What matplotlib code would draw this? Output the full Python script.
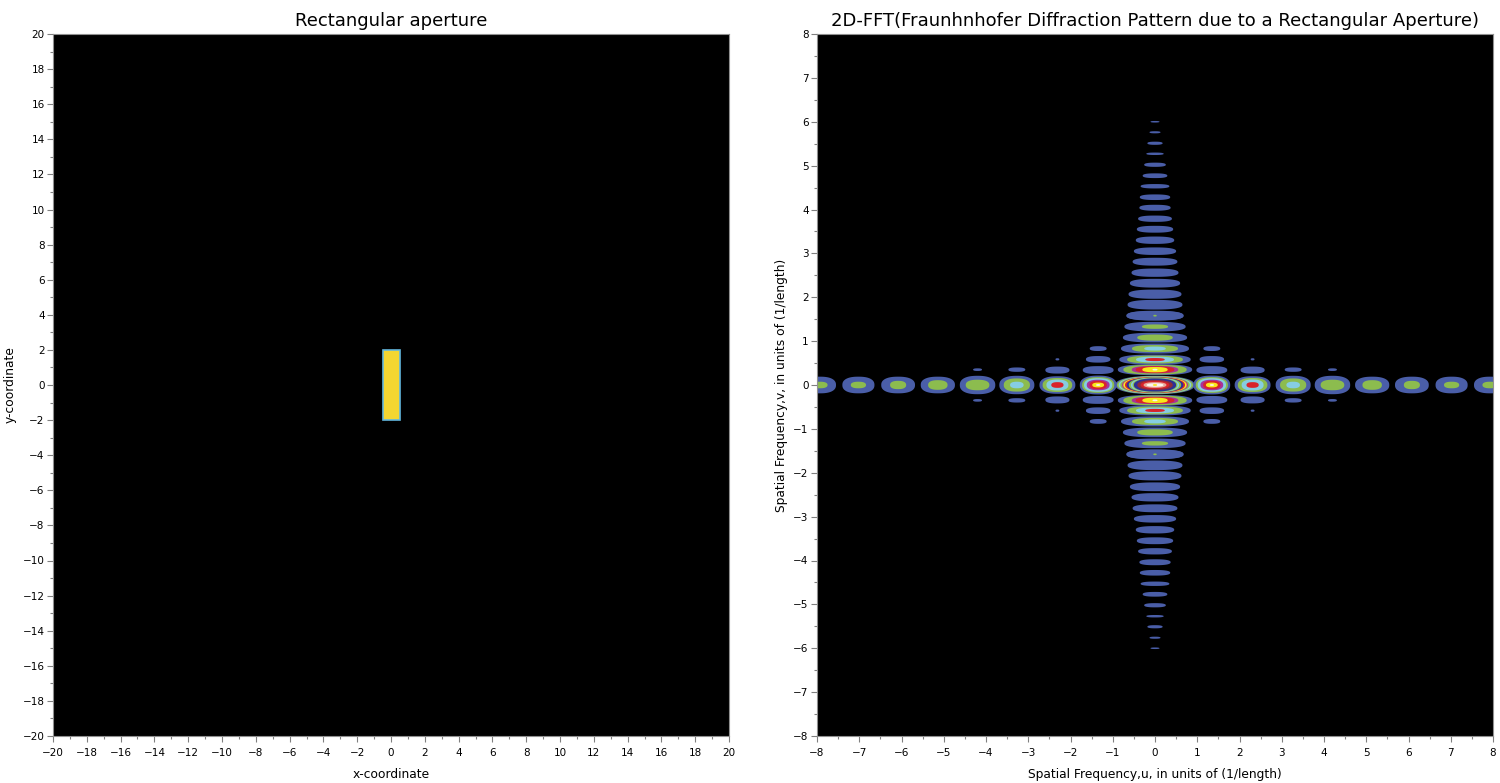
import numpy as np
import matplotlib
matplotlib.use("Agg")
import matplotlib.pyplot as plt

# contour level colours
BLUE = "#4a5ea8"
GREEN = "#8cbc4e"
CYAN = "#86cde2"
PURPLE = "#a8329a"
RED = "#d8232a"
YELLOW = "#f8e81c"
WHITE = "#fdf3ee"
DARKRED = "#8e2a3a"
PINK = "#e6a89a"
NAVY = "#2c2f96"

# lobes along the vertical axis (blue only), v > 0, mirrored below
v_lobes = [6.00, 5.76, 5.51, 5.27, 5.02, 4.77, 4.53, 4.28, 4.04, 3.79,
           3.55, 3.30, 3.05, 2.81, 2.56, 2.32, 2.07, 1.83, 1.58]
v_lobes_hu = [.106, .13, .18, .205, .256, .292, .34, .36, .37, .40,
              .43, .455, .50, .53, .556, .595, .627, .65, .675]
v_lobes_hv = [.018, .024, .036, .028, .048, .054, .05, .064, .068, .072,
              .078, .084, .086, .09, .095, .10, .105, .11, .112]

# nested lobes near the vertical axis: v, rings (half u, half v, colour)
inner_rows = [
    (1.58, [(.675, .105, BLUE), (.04, .02, GREEN)]),
    (1.33, [(.725, .11, BLUE), (.31, .05, GREEN)]),
    (1.08, [(.76, .11, BLUE), (.42, .07, GREEN)]),
    (0.83, [(.805, .115, BLUE), (.545, .08, GREEN), (.255, .045, CYAN)]),
    (0.58, [(.845, .115, BLUE), (.66, .09, GREEN), (.45, .065, CYAN), (.23, .035, RED)]),
    (0.35, [(.88, .125, BLUE), (.75, .11, GREEN), (.55, .085, PURPLE), (.46, .075, RED),
            (.30, .06, YELLOW), (.06, .02, WHITE)]),
]

# lobes on the horizontal axis: u > 0, mirrored to the left
u_lobes = [
    (7.93, [(.38, .19, BLUE), (.18, .075, GREEN)]),
    (7.02, [(.38, .19, BLUE), (.18, .075, GREEN)]),
    (6.08, [(.40, .19, BLUE), (.19, .095, GREEN)]),
    (5.14, [(.405, .19, BLUE), (.23, .11, GREEN)]),
    (4.20, [(.42, .21, BLUE), (.28, .12, GREEN)]),
    (3.27, [(.415, .21, BLUE), (.31, .15, GREEN), (.16, .075, CYAN)]),
    (2.31, [(.425, .20, BLUE), (.35, .16, GREEN), (.26, .125, CYAN), (.145, .065, RED)]),
    (1.345, [(.435, .215, BLUE), (.38, .18, GREEN), (.335, .155, CYAN), (.27, .12, PURPLE),
             (.205, .095, RED), (.14, .055, YELLOW), (.05, .02, WHITE)]),
]

# small side lobes off the axes: u, v, half u, half v
side_lobes_u = [1.345, 1.345, 1.345, 2.31, 2.31, 3.27, 4.20]
side_lobes_v = [.83, .585, .34, .585, .34, .35, .35]
side_lobes_hu = [.20, .29, .365, .045, .285, .20, .105]
side_lobes_hv = [.055, .075, .09, .025, .08, .05, .03]

# rings of the central lobe, outside to inside
center_rings = [
    (.94, .21, BLUE), (.90, .20, GREEN), (.86, .195, CYAN), (.82, .19, GREEN),
    (.78, .185, PURPLE), (.75, .18, YELLOW), (.71, .175, RED), (.67, .17, NAVY),
    (.62, .17, GREEN), (.57, .165, CYAN), (.53, .16, GREEN), (.50, .15, NAVY),
    (.42, .115, DARKRED), (.34, .09, RED), (.27, .065, PINK), (.20, .04, WHITE), (.05, .02, YELLOW),
]

aperture_x = [-0.5, 0.55]
aperture_y = [-2, 2]


def lobe(ax, u, v, hu, hv, color, p=2.0):
    t = np.linspace(0, 2 * np.pi, 80)
    x = u + hu * np.sign(np.cos(t)) * np.abs(np.cos(t)) ** (2 / p)
    y = v + hv * np.sign(np.sin(t)) * np.abs(np.sin(t)) ** (2 / p)
    ax.fill(x, y, color=color, lw=0)


def setup(ax, lim, major, minor, xlabel, ylabel, title):
    ax.set_facecolor("black")
    ax.set_xlim(-lim, lim)
    ax.set_ylim(-lim, lim)
    ticks = np.arange(-lim, lim + 1, major)
    ax.set_xticks(ticks)
    ax.set_yticks(ticks)
    ax.set_xticks(np.arange(-lim, lim + minor, minor), minor=True)
    ax.set_yticks(np.arange(-lim, lim + minor, minor), minor=True)
    ax.tick_params(which="major", length=4, width=0.8, color="#808080", labelsize=7.5)
    ax.tick_params(which="minor", length=2.2, width=0.8, color="#808080")
    ax.tick_params(axis="x", which="major", pad=5)
    ax.tick_params(axis="y", which="major", pad=2)
    for s in ax.spines.values():
        s.set_color("#909090")
    ax.set_xlabel(xlabel, fontsize=8.8, labelpad=6.5)
    ax.set_ylabel(ylabel, fontsize=8.8, labelpad=4)
    ax.set_title(title, fontsize=13, pad=6)


fig = plt.figure(figsize=(15, 7.83), dpi=100)
ax1 = fig.add_axes([53 / 1500, 1 - 736 / 783, 676 / 1500, 702 / 783])
ax2 = fig.add_axes([817 / 1500, 1 - 736 / 783, 676 / 1500, 702 / 783])

setup(ax1, 20, 2, 1, "x-coordinate", "y-coordinate", "Rectangular aperture")
setup(ax2, 8, 1, 0.5, "Spatial Frequency,u, in units of (1/length)",
      "Spatial Frequency,v, in units of (1/length)",
      "2D-FFT(Fraunhnhofer Diffraction Pattern due to a Rectangular Aperture)")

ax1.fill([aperture_x[0], aperture_x[1], aperture_x[1], aperture_x[0]],
         [aperture_y[0], aperture_y[0], aperture_y[1], aperture_y[1]],
         facecolor="#f4d631", edgecolor="#62b6dc", lw=1.2)

for v, hu, hv in zip(v_lobes, v_lobes_hu, v_lobes_hv):
    for sv in (1, -1):
        lobe(ax2, 0, sv * v, hu, hv, BLUE, p=2.5)
for v, rings in inner_rows:
    for sv in (1, -1):
        for hu, hv, c in rings:
            lobe(ax2, 0, sv * v, hu, hv, c, p=2.5)
for u, v, hu, hv in zip(side_lobes_u, side_lobes_v, side_lobes_hu, side_lobes_hv):
    for su in (1, -1):
        for sv in (1, -1):
            lobe(ax2, su * u, sv * v, hu, hv, BLUE, p=2.5)
for u, rings in u_lobes:
    for su in (1, -1):
        for hu, hv, c in rings:
            lobe(ax2, su * u, 0, hu, hv, c, p=2.4)
for hu, hv, c in center_rings:
    lobe(ax2, 0, 0, hu, hv, c, p=2.3)

fig.savefig("out.png", dpi=100)
